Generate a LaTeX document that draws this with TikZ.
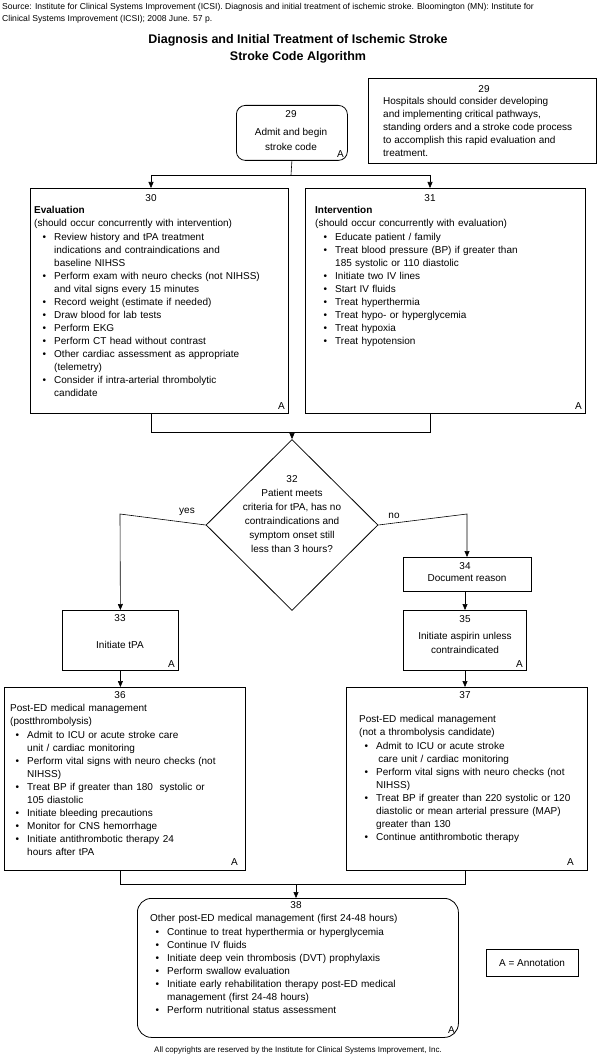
\documentclass[tikz,border=0pt]{standalone}
\usepackage{fontspec}
\setmainfont{Liberation Sans}
\usepackage{enumitem}
\usetikzlibrary{shapes.geometric,arrows.meta}
\newcommand{\bl}[1][20pt]{\begin{itemize}[leftmargin=#1,labelsep=8pt,itemsep=0pt,topsep=1pt,parsep=0pt,partopsep=0pt,label=\textbullet]}
\newcommand{\el}{\end{itemize}}
\begin{document}
\begin{tikzpicture}[x=1pt,y=-1pt,
  box/.style={draw,line width=0.8pt},
  txt/.style={anchor=north west,inner sep=0pt,align=left,font=\fontsize{10}{13}\selectfont},
  num/.style={inner sep=0pt,font=\fontsize{10}{12}\selectfont},
  ann/.style={inner sep=0pt,font=\fontsize{10}{12}\selectfont,anchor=south east},
  arr/.style={-{Triangle[length=6pt,width=5pt]},line width=0.6pt},
  ln/.style={line width=0.6pt}]
\useasboundingbox (0,0) rectangle (608,1064);
\node[txt,font=\fontsize{8.6}{12}\selectfont] at (2,3) {Source: Institute for Clinical Systems Improvement (ICSI). Diagnosis and initial treatment of ischemic stroke. Bloomington (MN): Institute for\\Clinical Systems Improvement (ICSI); 2008 June. 57 p.};
\node[inner sep=0pt,align=center,font=\bfseries\fontsize{12.5}{17}\selectfont] (title) at (298,49) {Diagnosis and Initial Treatment of Ischemic Stroke\\Stroke Code Algorithm};
% 29 annotation
\node[box,minimum width=228pt,minimum height=85pt,anchor=north west] (n29a) at (368,78) {};
\node[num] at (484,89) {29};
\node[txt] at (383,97) {Hospitals should consider developing\\and implementing critical pathways,\\standing orders and a stroke code process\\to accomplish this rapid evaluation and\\treatment.};
% 29
\node[box,rounded corners=9pt,minimum width=111pt,minimum height=55pt,anchor=north west] (n29) at (236,105) {};
\node[num] at (291,114) {29};
\node[num,align=center,font=\fontsize{10}{15}\selectfont] at (291,139) {Admit and begin\\stroke code};
\node[ann] at (344,158) {A};
% 30
\node[box,minimum width=258pt,minimum height=225pt,anchor=north west] (n30) at (30,188) {};
\node[num] at (151,198) {30};
\node[txt,text width=245pt] at (34,206) {\textbf{Evaluation}\\(should occur concurrently with intervention)
\bl
\item Review history and tPA treatment\\indications and contraindications and\\baseline NIHSS
\item Perform exam with neuro checks (not NIHSS)\\and vital signs every 15 minutes
\item Record weight (estimate if needed)
\item Draw blood for lab tests
\item Perform EKG
\item Perform CT head without contrast
\item Other cardiac assessment as appropriate\\(telemetry)
\item Consider if intra-arterial thrombolytic\\candidate
\el};
\node[ann] at (285,410) {A};
% 31
\node[box,minimum width=280pt,minimum height=225pt,anchor=north west] (n31) at (305,188) {};
\node[num] at (430,198) {31};
\node[txt,text width=270pt] at (315,206) {\textbf{Intervention}\\(should occur concurrently with evaluation)
\bl
\item Educate patient / family
\item Treat blood pressure (BP) if greater than\\185 systolic or 110 diastolic
\item Initiate two IV lines
\item Start IV fluids
\item Treat hyperthermia
\item Treat hypo- or hyperglycemia
\item Treat hypoxia
\item Treat hypotension
\el};
\node[ann] at (582,410) {A};
% connectors top
\coordinate (s1) at (291,175);
\coordinate (l1) at (151,175);
\coordinate (r1) at (430,175);
\draw[ln] (n29.south) -- (s1);
\draw[ln] (l1) -- (r1);
\draw[arr] (l1) -- (l1|-n30.north);
\draw[arr] (r1) -- (r1|-n31.north);
% 32
\node[box,diamond,minimum width=172pt,minimum height=171pt,inner sep=0pt] (n32) at (292,525) {};
\node[num] at (292,479) {32};
\node[num,align=center,font=\fontsize{10}{14}\selectfont] at (292,521) {Patient meets\\criteria for tPA, has no\\contraindications and\\symptom onset still\\less than 3 hours?};
\coordinate (l2) at (151,432);
\coordinate (r2) at (430,432);
\coordinate (c2) at (292,432);
\draw[ln] (l2|-n30.south) -- (l2) -- (r2) -- (r2|-n31.south);
\draw[arr] (c2) -- (n32.north);
% 33
\node[box,minimum width=116pt,minimum height=60pt,anchor=north west] (n33) at (62,610) {};
\node[num] at (120,618) {33};
\node[num] at (120,645) {Initiate tPA};
\node[ann] at (175,668) {A};
% 34
\node[box,minimum width=128pt,minimum height=34pt,anchor=north west] (n34) at (403,557) {};
\node[num] at (465,566) {34};
\node[num] at (467,578) {Document reason};
% 35
\node[box,minimum width=123pt,minimum height=60pt,anchor=north west] (n35) at (403,610) {};
\node[num] at (465,619) {35};
\node[num,align=center,font=\fontsize{10}{14}\selectfont] at (465,643) {Initiate aspirin unless\\contraindicated};
\node[ann] at (523,668) {A};
\coordinate (yc) at (120,514);
\coordinate (nc) at (467,514);
\draw[arr] (n32.west) -- (yc) -- (n33.north);
\draw[arr] (n32.east) -- (nc) -- (nc|-n34.north);
\node[num] at (187,512) {yes};
\node[num] at (394,516) {no};
\draw[arr] (465,591) -- (465,610);
% 36
\node[box,minimum width=241pt,minimum height=183pt,anchor=north west] (n36) at (4,687) {};
\node[num] at (120,695) {36};
\node[txt,text width=235pt] at (10,704) {Post-ED medical management\\(postthrombolysis)
\bl[17pt]
\item Admit to ICU or acute stroke care\\unit / cardiac monitoring
\item Perform vital signs with neuro checks (not\\NIHSS)
\item Treat BP if greater than 180~ systolic or\\105 diastolic
\item Initiate bleeding precautions
\item Monitor for CNS hemorrhage
\item Initiate antithrombotic therapy 24\\hours after tPA
\el};
\node[ann] at (238,866) {A};
% 37
\node[box,minimum width=241pt,minimum height=183pt,anchor=north west] (n37) at (346,687) {};
\node[num] at (465,695) {37};
\node[txt,text width=235pt] at (359,715) {Post-ED medical management\\(not a thrombolysis candidate)
\bl[17pt]
\item Admit to ICU or acute stroke\\\phantom{i}care unit / cardiac monitoring
\item Perform vital signs with neuro checks (not\\NIHSS)
\item Treat BP if greater than 220 systolic or 120\\diastolic or mean arterial pressure (MAP)\\greater than 130
\item Continue antithrombotic therapy
\el};
\node[ann] at (574,866) {A};
\draw[arr] (n33.south) -- (n36.north-|n33.south);
\draw[arr] (465,670) -- (465,687);
% 38
\node[box,rounded corners=14pt,minimum width=321pt,minimum height=139pt,anchor=north west] (n38) at (137,898) {};
\node[num] at (296,905) {38};
\node[txt,text width=300pt] at (150,914) {Other post-ED medical management (first 24-48 hours)
\bl[17pt]
\item Continue to treat hyperthermia or hyperglycemia
\item Continue IV fluids
\item Initiate deep vein thrombosis (DVT) prophylaxis
\item Perform swallow evaluation
\item Initiate early rehabilitation therapy post-ED medical\\management (first 24-48 hours)
\item Perform nutritional status assessment
\el};
\node[ann] at (455,1034) {A};
\coordinate (l3) at (120,884);
\coordinate (r3) at (465,884);
\coordinate (c3) at (296,884);
\draw[ln] (n36.south-|l3) -- (l3) -- (r3) -- (n37.south-|r3);
\draw[arr] (c3) -- (n38.north-|c3);
\node[box,minimum width=92pt,minimum height=27pt,font=\fontsize{10}{12}\selectfont] (key) at (532,963) {A = Annotation};
\node[num,font=\fontsize{8}{10}\selectfont] at (298,1050) {All copyrights are reserved by the Institute for Clinical Systems Improvement, Inc.};
\end{tikzpicture}
\end{document}
